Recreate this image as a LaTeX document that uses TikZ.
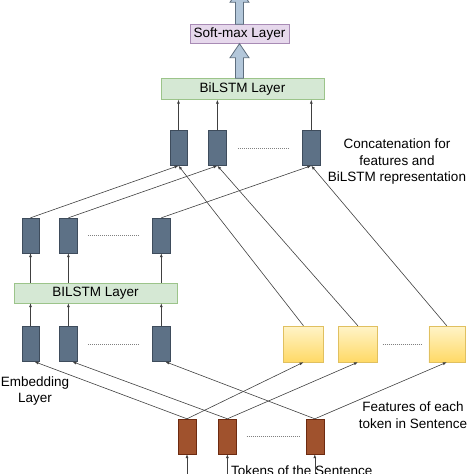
\documentclass[tikz,border=0pt]{standalone}
\usepackage{fontspec}
\setmainfont{Liberation Sans}
\usetikzlibrary{arrows.meta,positioning,calc}
\definecolor{cellblue}{HTML}{5D7186}
\definecolor{cellline}{HTML}{3E4C5C}
\definecolor{tokfill}{HTML}{A0522D}
\definecolor{tokline}{HTML}{6D2A10}
\definecolor{feattop}{HTML}{FFF4C8}
\definecolor{featbot}{HTML}{FFD966}
\definecolor{featline}{HTML}{E0C060}
\definecolor{layfill}{HTML}{D5E8D4}
\definecolor{layline}{HTML}{9CC48A}
\definecolor{softfill}{HTML}{E6D8EC}
\definecolor{softline}{HTML}{A88BB5}
\definecolor{fatfill}{HTML}{B3C7DA}
\definecolor{fatline}{HTML}{5E6E7E}
\definecolor{wire}{HTML}{404040}
\newcommand{\lbl}{\fontsize{13.5}{16.5}\selectfont}
\newcommand{\fatarrow}[2]{%
  \draw[fat] ($(#1)+(-4,0)$) -- ($(#2)+(-4,14)$) -- ($(#2)+(-9.5,14)$) -- (#2)
    -- ($(#2)+(9.5,14)$) -- ($(#2)+(4,14)$) -- ($(#1)+(4,0)$) -- cycle;}

\begin{document}
\begin{tikzpicture}[
  x=1pt,y=-1pt,
  >={Latex[length=4pt,width=3pt]},
  cell/.style={draw=cellline,fill=cellblue,minimum width=17.5pt,
    minimum height=35pt,inner sep=0pt},
  token/.style={draw=tokline,fill=tokfill,minimum width=18pt,
    minimum height=35pt,inner sep=0pt},
  feat/.style={draw=featline,top color=feattop,bottom color=featbot,
    minimum width=40pt,minimum height=36pt,inner sep=0pt},
  layer/.style={draw=layline,fill=layfill,minimum width=163pt,
    minimum height=21pt,inner sep=0pt,font=\lbl},
  softbox/.style={draw=softline,fill=softfill,minimum width=99pt,
    minimum height=19pt,inner sep=0pt,font=\lbl},
  note/.style={align=center,inner sep=0pt,font=\lbl},
  flow/.style={->,line width=0.6pt,draw=wire},
  dots/.style={draw=gray,line width=0.6pt,dash pattern=on 1pt off 1pt},
  fat/.style={draw=fatline,fill=fatfill,line width=0.8pt,line join=miter}
]
  \useasboundingbox (0,0) rectangle (474,474);

  % concatenation row
  \node[cell] (c1) at (178.5,148) {};
  \node[cell,right=21pt of c1] (c2) {};
  \node[cell,right=76pt of c2] (c3) {};
  % BiLSTM output row
  \node[cell] (m1) at (30.5,235.5) {};
  \node[cell,right=20pt of m1] (m2) {};
  \node[cell,right=75pt of m2] (m3) {};
  % embedding row
  \node[cell] (e1) at (30.5,344) {};
  \node[cell,right=20pt of e1] (e2) {};
  \node[cell,right=75pt of e2] (e3) {};
  % feature row
  \node[feat] (f1) at (303.5,344) {};
  \node[feat,right=14.5pt of f1,minimum width=39pt] (f2) {};
  \node[feat,right=51pt of f2,minimum width=36pt] (f3) {};
  % tokens
  \node[token] (t1) at (187,436.5) {};
  \node[token,right=22pt of t1] (t2) {};
  \node[token,right=69pt of t2] (t3) {};

  \node[layer] (bil2) at (242.5,89) {BiLSTM Layer};
  \node[layer,minimum height=20pt] (bil1) at (95.5,293) {BILSTM Layer};
  \node[softbox] (soft) at (239.5,34) {Soft-max Layer};

  \node[note] (concat) at (397,162) {Concatenation for\\features and\\BiLSTM representation};
  \node[note] (featlbl) at (413,415) {Features of each\\token in Sentence};
  \node[note] (emblbl) at (35,391) {Embedding\\Layer};
  \node[note,anchor=base west] (toklbl) at (231,475) {Tokens of the Sentence};

  % dotted gaps
  \draw[dots] ([xshift=12pt]c2.east) -- ([xshift=-13pt]c3.west);
  \draw[dots] ([xshift=11pt]m2.east) -- ([xshift=-13pt]m3.west);
  \draw[dots] ([xshift=11pt]e2.east) -- ([xshift=-13pt]e3.west);
  \draw[dots] ([xshift=5pt]f2.east) -- ([xshift=-6pt]f3.west);
  \draw[dots] ([xshift=10pt]t2.east) -- ([xshift=-6pt]t3.west);

  \foreach \i in {1,2,3} {
    \coordinate[below=22pt of t\i.south] (in\i);
    \draw[flow] (in\i) -- (t\i.south);
    \draw[flow] (t\i.north) -- ([xshift=4pt]e\i.south);
    \draw[flow] (t\i.north) -- (f\i.south);
    \draw[flow] (e\i.north) -- (e\i.north |- bil1.south);
    \draw[flow] (e\i.north |- bil1.north) -- (m\i.south);
    \draw[flow] (m\i.north) -- (c\i.south);
    \draw[flow] (f\i.north) -- (c\i.south);
    \draw[flow] (c\i.north) -- (c\i.north |- bil2.south);
  }

  \coordinate (fatbase) at (soft.south |- bil2.north);
  \coordinate[above=36pt of soft.north] (out);
  \fatarrow{fatbase}{soft.south}
  \fatarrow{soft.north}{out}
\end{tikzpicture}
\end{document}
